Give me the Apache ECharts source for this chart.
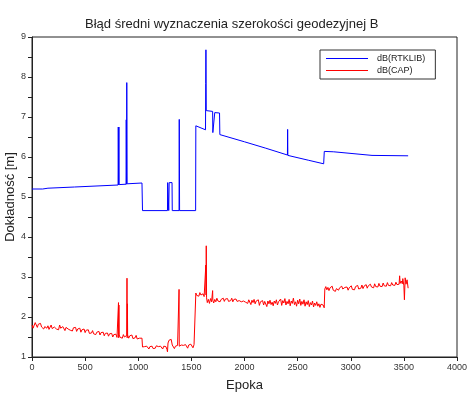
<!DOCTYPE html>
<html><head><meta charset="utf-8">
<script src="https://cdn.jsdelivr.net/npm/echarts@6/dist/echarts.min.js"></script>
<style>html,body{margin:0;padding:0;background:#fff}#c{width:474px;height:395px}</style>
</head><body><div id="c"></div>
<script>
const titleText = 'Błąd średni wyznaczenia szerokości geodezyjnej B';
const xName = 'Epoka';
const yName = 'Dokładność [m]';
const seriesNames = ['dB(RTKLIB)', 'dB(CAP)'];
const xTicks = [0, 500, 1000, 1500, 2000, 2500, 3000, 3500, 4000];
const yTicks = [1, 2, 3, 4, 5, 6, 7, 8, 9];

// [epoka, wartość]
const rtklib = [
  [0,5.20],[100,5.20],[150,5.22],[400,5.25],[810,5.30],[812,6.75],[815,5.30],[818,6.75],[820,5.31],
  [885,5.32],[887,6.93],[890,5.32],[892,7.86],[895,5.33],[1035,5.35],[1040,4.66],[1275,4.66],
  [1277,5.36],[1285,5.36],[1287,4.66],[1289,4.66],[1291,5.36],[1318,5.36],[1320,4.66],
  [1384,4.66],[1386,6.94],[1389,4.66],[1540,4.66],[1542,6.78],[1633,6.68],[1635,7.84],
  [1637,8.68],[1640,7.16],[1700,7.14],[1702,6.61],[1718,6.61],[1720,7.11],[1765,7.10],
  [1768,6.56],[2000,6.38],[2200,6.22],[2404,6.05],[2406,6.69],[2408,6.04],[2600,5.92],
  [2745,5.83],[2751,6.14],[2840,6.13],[2850,6.11],[3200,6.04],[3540,6.03]
];

const cap = [
  [0,1.80],[10,1.72],[20,1.76],[30,1.86],[40,1.80],[50,1.74],[60,1.82],[70,1.77],[80,1.84],
  [90,1.75],[100,1.79],[110,1.70],[120,1.76],[130,1.81],[140,1.72],[150,1.78],[160,1.69],
  [170,1.74],[180,1.80],[190,1.71],[200,1.67],[210,1.75],[220,1.79],[230,1.70],[240,1.74],
  [250,1.68],[260,1.80],[270,1.72],[280,1.69],[290,1.76],[300,1.71],[310,1.66],[320,1.74],
  [330,1.79],[340,1.70],[350,1.75],[360,1.67],[370,1.72],[380,1.65],[390,1.73],[400,1.69],
  [410,1.74],[420,1.64],[430,1.70],[440,1.66],[450,1.72],[460,1.62],[470,1.68],[480,1.64],
  [490,1.70],[500,1.61],[510,1.67],[520,1.63],[530,1.68],[540,1.59],[550,1.64],[560,1.60],
  [570,1.66],[580,1.58],[590,1.63],[600,1.56],[610,1.62],[620,1.59],[630,1.64],[640,1.55],
  [650,1.61],[660,1.57],[670,1.62],[680,1.53],[690,1.59],[700,1.55],[710,1.60],[720,1.52],
  [730,1.58],[740,1.54],[750,1.59],[760,1.50],[770,1.56],[780,1.52],[790,1.57],[800,1.49],
  [812,1.54],[814,2.36],[816,1.48],[818,2.30],[820,1.55],[830,1.49],[840,1.54],[850,1.47],
  [860,1.56],[870,1.50],[880,1.46],[892,1.54],[894,2.97],[896,1.48],[898,2.33],[900,1.55],
  [910,1.47],[920,1.53],[930,1.49],[940,1.55],[950,1.46],[960,1.51],[970,1.48],[980,1.54],
  [990,1.45],[1000,1.50],[1010,1.47],[1020,1.52],[1035,1.47],[1040,1.25],[1050,1.21],
  [1060,1.26],[1070,1.22],[1080,1.27],[1090,1.23],[1100,1.20],[1110,1.26],[1120,1.23],
  [1130,1.27],[1140,1.21],[1150,1.25],[1160,1.22],[1170,1.28],[1180,1.23],[1190,1.26],
  [1200,1.21],[1210,1.27],[1220,1.24],[1230,1.20],[1240,1.27],[1250,1.23],[1260,1.26],
  [1270,1.19],[1275,1.13],[1280,1.35],[1290,1.42],[1300,1.37],[1310,1.44],[1320,1.30],
  [1330,1.25],[1340,1.21],[1350,1.27],[1360,1.23],[1370,1.29],[1382,1.24],[1384,2.69],
  [1386,1.27],[1395,1.23],[1405,1.30],[1415,1.25],[1425,1.29],[1435,1.24],[1445,1.31],
  [1455,1.26],[1465,1.22],[1475,1.30],[1485,1.25],[1495,1.32],[1505,1.27],[1515,1.23],
  [1525,1.31],[1538,1.26],[1542,2.60],[1550,2.54],[1560,2.58],[1570,2.52],[1580,2.61],
  [1590,2.55],[1600,2.52],[1610,2.58],[1620,2.51],[1632,2.55],[1634,2.48],[1636,3.30],
  [1638,2.55],[1640,3.78],[1643,2.48],[1650,2.36],[1660,2.44],[1670,2.34],[1680,2.46],
  [1690,2.38],[1698,2.41],[1700,2.66],[1702,2.42],[1710,2.35],[1720,2.44],[1730,2.38],
  [1740,2.47],[1750,2.40],[1760,2.45],[1770,2.38],[1780,2.44],[1790,2.40],[1800,2.47],
  [1810,2.39],[1820,2.45],[1830,2.41],[1840,2.46],[1850,2.39],[1860,2.44],[1870,2.41],
  [1880,2.47],[1890,2.38],[1900,2.44],[1910,2.40],[1920,2.45],[1930,2.39],[1940,2.43],
  [1950,2.41],[1960,2.46],[1970,2.38],[1980,2.43],[1990,2.40],[2000,2.45],[2010,2.37],
  [2020,2.42],[2030,2.34],[2040,2.43],[2050,2.38],[2060,2.31],[2070,2.42],[2080,2.36],
  [2090,2.44],[2100,2.33],[2110,2.40],[2120,2.35],[2130,2.43],[2140,2.29],[2150,2.38],
  [2160,2.33],[2170,2.41],[2180,2.30],[2190,2.39],[2200,2.34],[2210,2.26],[2220,2.40],
  [2230,2.33],[2240,2.42],[2250,2.31],[2260,2.37],[2270,2.28],[2280,2.40],[2290,2.34],
  [2300,2.43],[2310,2.30],[2320,2.38],[2330,2.33],[2340,2.45],[2350,2.29],[2360,2.41],
  [2370,2.35],[2380,2.46],[2390,2.30],[2400,2.39],[2410,2.33],[2420,2.44],[2430,2.28],
  [2440,2.40],[2450,2.34],[2460,2.47],[2470,2.31],[2480,2.38],[2490,2.27],[2500,2.42],
  [2510,2.33],[2520,2.45],[2530,2.29],[2540,2.39],[2550,2.32],[2560,2.43],[2570,2.27],
  [2580,2.38],[2590,2.31],[2600,2.41],[2610,2.26],[2620,2.36],[2630,2.30],[2640,2.40],
  [2650,2.25],[2660,2.35],[2670,2.29],[2680,2.38],[2690,2.27],[2700,2.33],[2710,2.24],
  [2720,2.32],[2730,2.27],[2740,2.30],[2750,2.23],[2756,2.70],[2765,2.76],[2775,2.68],
  [2785,2.74],[2795,2.66],[2805,2.73],[2815,2.69],[2825,2.77],[2835,2.67],[2845,2.72],
  [2855,2.64],[2865,2.71],[2875,2.76],[2885,2.67],[2895,2.73],[2905,2.68],[2915,2.77],
  [2925,2.70],[2935,2.65],[2945,2.74],[2955,2.69],[2965,2.75],[2975,2.67],[2985,2.73],
  [2995,2.70],[3005,2.78],[3015,2.69],[3025,2.74],[3035,2.68],[3045,2.76],[3055,2.71],
  [3065,2.79],[3075,2.70],[3085,2.75],[3095,2.72],[3105,2.80],[3115,2.71],[3125,2.77],
  [3135,2.73],[3145,2.81],[3155,2.72],[3165,2.78],[3175,2.74],[3185,2.82],[3195,2.75],
  [3205,2.80],[3215,2.73],[3225,2.83],[3235,2.76],[3245,2.81],[3255,2.75],[3265,2.84],
  [3275,2.77],[3285,2.82],[3295,2.76],[3305,2.85],[3315,2.78],[3325,2.83],[3335,2.77],
  [3345,2.86],[3355,2.79],[3365,2.84],[3375,2.78],[3385,2.86],[3395,2.80],[3405,2.85],
  [3415,2.79],[3425,2.87],[3435,2.81],[3445,2.86],[3455,2.82],[3460,3.03],[3465,2.84],
  [3475,2.90],[3485,2.83],[3490,2.96],[3500,2.78],[3505,2.43],[3512,2.98],[3520,2.82],
  [3530,2.93],[3540,2.72]
];

const chart = echarts.init(document.getElementById('c'), null, {renderer: 'canvas'});
const axisCol = '#222';
const fam = 'Liberation Sans, Arial, sans-serif';
const labelStyle = {color: '#333', fontSize: 9, fontFamily: fam};
chart.setOption({
  animation: false,
  backgroundColor: '#fff',
  title: {
    text: titleText, left: 80, top: 13,
    textStyle: {fontSize: 13, fontWeight: 'normal', color: '#222', fontFamily: fam}
  },
  grid: {left: 32, right: 17, top: 37, bottom: 38, containLabel: false, outerBoundsMode: 'none',
         show: true, borderColor: axisCol, borderWidth: 1, backgroundColor: 'transparent'},
  legend: {
    orient: 'vertical', left: 320, top: 50,
    padding: [4, 10, 4, 6], itemGap: 3,
    itemWidth: 42, itemHeight: 1,
    backgroundColor: '#fff', borderColor: '#333', borderWidth: 1,
    textStyle: {fontSize: 9, color: '#222', fontFamily: fam, padding: [0, 0, 0, 4]},
    data: [{name: seriesNames[0], icon: 'rect'}, {name: seriesNames[1], icon: 'rect'}]
  },
  xAxis: {
    type: 'value', min: xTicks[0], max: xTicks[xTicks.length - 1], interval: 500,
    name: xName, nameLocation: 'middle', nameGap: 22, nameMoveOverlap: false,
    nameTextStyle: {fontSize: 13, color: '#222', fontFamily: fam},
    axisLine: {lineStyle: {color: axisCol}},
    axisTick: {show: true, length: 4, lineStyle: {color: axisCol}},
    axisLabel: Object.assign({margin: 6, formatter: v => String(v)}, labelStyle),
    splitLine: {show: false}
  },
  yAxis: {
    type: 'value', min: yTicks[0], max: yTicks[yTicks.length - 1], interval: 1,
    name: yName, nameLocation: 'middle', nameGap: 15, nameMoveOverlap: false,
    nameTextStyle: {fontSize: 13, color: '#222', fontFamily: fam},
    axisLine: {show: true, lineStyle: {color: axisCol}},
    axisTick: {show: true, length: 4, lineStyle: {color: axisCol}},
    minorTick: {show: true, splitNumber: 2, length: 4, lineStyle: {color: axisCol}},
    axisLabel: Object.assign({margin: 6, formatter: v => String(v)}, labelStyle),
    splitLine: {show: false}
  },
  series: [
    {name: seriesNames[0], type: 'line', data: rtklib, symbol: 'none', color: '#0000ff',
     lineStyle: {width: 1, color: '#0000ff'}},
    {name: seriesNames[1], type: 'line', data: cap, symbol: 'none', color: '#ff0000',
     lineStyle: {width: 1, color: '#ff0000'}}
  ]
});
</script></body></html>
